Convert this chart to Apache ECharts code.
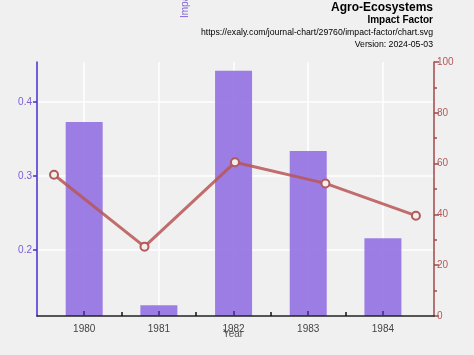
<!DOCTYPE html>
<html>
<head>
<meta charset="utf-8">
<script src="https://cdn.jsdelivr.net/npm/echarts@6/dist/echarts.min.js"></script>
<style>
html,body{margin:0;padding:0;background:#f0f0f0;}
#chart{width:474px;height:355px;}
</style>
</head>
<body>
<div id="chart"></div>
<script>
// ---- data ----
var years = [1980, 1981, 1982, 1983, 1984];
var yearLabels = ['1980', '1981', '1982', '1983', '1984'];
var impactFactor = [0.373, 0.1253, 0.4423, 0.3338, 0.2158];
var percentile = [55.6, 27.3, 60.5, 52.2, 39.5];
var leftTicks = [0.2, 0.3, 0.4];
var halfYears = [1980.5, 1981.5, 1982.5, 1983.5];

var titleMain = 'Agro-Ecosystems';
var titleSub = 'Impact Factor';
var titleUrl = 'https://exaly.com/journal-chart/29760/impact-factor/chart.svg';
var titleVersion = 'Version: 2024-05-03';
var leftAxisName = 'Impact Factor';
var xAxisName = 'Year';

var chart = echarts.init(document.getElementById('chart'));
var FONT = '"Liberation Sans", Arial, sans-serif';

var barData = years.map(function (y, i) { return [y, impactFactor[i]]; });
var lineData = years.map(function (y, i) { return [y, percentile[i]]; });

var X_MIN = 1979.368, X_MAX = 1984.684;

chart.setOption({
  backgroundColor: '#f0f0f0',
  animation: false,
  textStyle: { fontFamily: FONT },
  grid: { left: 37, right: 40, top: 62, bottom: 39, containLabel: false },
  graphic: [
    { type: 'text', right: 41, top: 2, style: { text: titleMain, font: 'bold 12px ' + FONT, fill: '#000', textAlign: 'right' } },
    { type: 'text', right: 41, top: 15, style: { text: titleSub, font: 'bold 10px ' + FONT, fill: '#000', textAlign: 'right' } },
    { type: 'text', right: 41, top: 28, style: { text: titleUrl, font: '8.7px ' + FONT, fill: '#000', textAlign: 'right' } },
    { type: 'text', right: 41, top: 40, style: { text: titleVersion, font: '8.7px ' + FONT, fill: '#000', textAlign: 'right' } },
    { type: 'text', x: 190, y: 18, rotation: Math.PI / 2, style: { text: leftAxisName, font: '10px ' + FONT, fill: '#8060d8', textAlign: 'left', textVerticalAlign: 'bottom' } },
    { type: 'text', x: 233, y: 334, style: { text: xAxisName, font: '10px ' + FONT, fill: '#555', textAlign: 'center', textVerticalAlign: 'middle' } }
  ],
  xAxis: [
    {
      // labels + vertical grid lines (under the bars)
      type: 'value', min: X_MIN, max: X_MAX, position: 'bottom',
      axisLine: { show: false, onZero: false },
      axisTick: { show: false, customValues: years },
      axisLabel: { show: true, customValues: years, formatter: function (v) { return yearLabels[years.indexOf(Math.round(v))] || ''; }, color: '#444', fontSize: 10, margin: 8, fontFamily: FONT },
      splitLine: { show: true, showMinLine: true, showMaxLine: true, lineStyle: { color: '#ffffff', width: 1.5 } }
    },
    {
      // axis line + centre ticks (above the bars)
      type: 'value', min: X_MIN, max: X_MAX, position: 'bottom', z: 5,
      axisLine: { show: true, onZero: false, lineStyle: { color: '#222', width: 1.5 } },
      axisTick: { show: true, inside: true, length: 5, customValues: years, lineStyle: { color: '#3a2a80', width: 1.5 } },
      axisLabel: { show: false },
      splitLine: { show: false }
    },
    {
      // boundary ticks
      type: 'value', min: X_MIN, max: X_MAX, position: 'bottom', z: 5,
      axisLine: { show: false, onZero: false },
      axisTick: { show: true, inside: true, length: 4, customValues: halfYears, lineStyle: { color: '#111', width: 1.5 } },
      axisLabel: { show: false },
      splitLine: { show: false }
    },
    {
      type: 'value', min: 1979.812, max: 1984.2, show: false,
      splitLine: { show: false }
    }
  ],
  yAxis: [
    {
      type: 'value', min: 0.1108, max: 0.4541, splitNumber: 3, position: 'left',
      axisLine: { show: true, onZero: false, lineStyle: { color: '#4b2bd0', width: 1.5 } },
      axisTick: { show: true, inside: false, length: 4, customValues: leftTicks, lineStyle: { color: '#4b2bd0', width: 1.5 } },
      axisLabel: { customValues: leftTicks, color: '#7a5cd0', fontSize: 10, margin: 5, fontFamily: FONT, formatter: function (v) { return v.toFixed(1); } },
      splitLine: { show: true, showMinLine: true, showMaxLine: true, lineStyle: { color: '#ffffff', width: 1.5 } }
    },
    {
      type: 'value', min: 0, max: 100, interval: 20, position: 'right',
      axisLine: { show: true, onZero: false, lineStyle: { color: '#a04848', width: 1.5 } },
      axisTick: { show: true, inside: false, length: 5, lineStyle: { color: '#a04848', width: 1.5 } },
      minorTick: { show: true, splitNumber: 2, length: 3, lineStyle: { color: '#a04848', width: 1.5 } },
      axisLabel: { color: '#b05a5a', fontSize: 10, margin: 3, fontFamily: FONT },
      splitLine: { show: false }
    }
  ],
  series: [
    {
      type: 'bar', xAxisIndex: 0, yAxisIndex: 0, data: barData, barWidth: 37,
      itemStyle: { color: '#9674e2', opacity: 0.93 }, z: 2
    },
    {
      type: 'line', xAxisIndex: 3, yAxisIndex: 1, data: lineData,
      symbol: 'circle', symbolSize: 8, showSymbol: true,
      lineStyle: { color: '#b85656', width: 3, opacity: 0.85 },
      itemStyle: { color: '#f4eeee', borderColor: '#b05a5a', borderWidth: 2 }, z: 6
    }
  ]
});
</script>
</body>
</html>
